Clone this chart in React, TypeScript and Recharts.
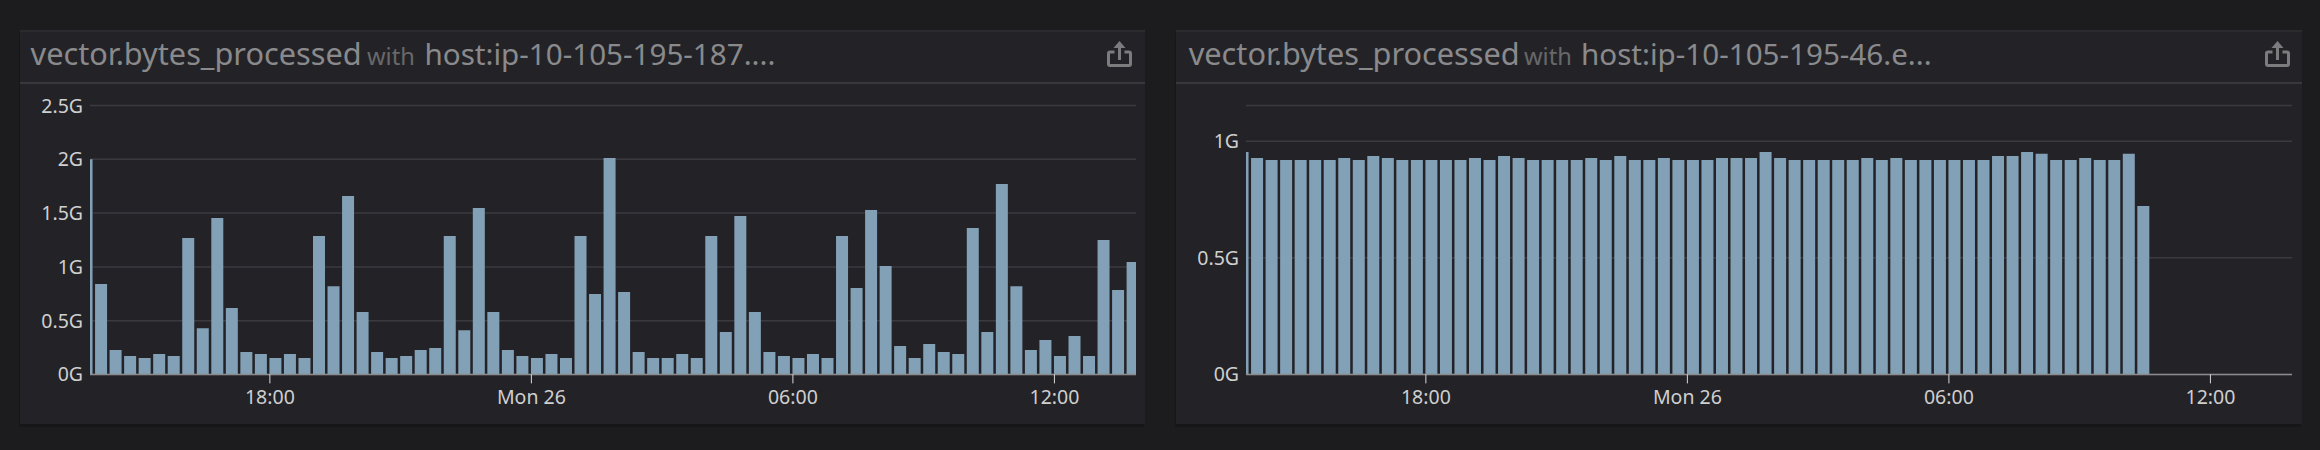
import React from "react";
import { BarChart, Bar, XAxis, YAxis, CartesianGrid } from "recharts";

const hostOneValues = [
  2.0, 0.84, 0.226, 0.17, 0.152, 0.19, 0.17, 1.268, 0.43, 1.454, 0.617, 0.208, 0.19, 0.152, 0.19, 0.152,
  1.287, 0.82, 1.66, 0.58, 0.208, 0.152, 0.17, 0.226, 0.245, 1.287, 0.41, 1.547, 0.58, 0.226, 0.17, 0.152,
  0.19, 0.152, 1.287, 0.747, 2.012, 0.766, 0.208, 0.152, 0.152, 0.19, 0.152, 1.287, 0.394, 1.473, 0.58,
  0.208, 0.17, 0.152, 0.19, 0.152, 1.287, 0.803, 1.529, 1.008, 0.264, 0.152, 0.282, 0.208, 0.19, 1.361,
  0.394, 1.77, 0.82, 0.226, 0.32, 0.17, 0.357, 0.17, 1.25, 0.785, 1.045,
];
const hostTwoValues = [
  0.954, 0.928, 0.92, 0.92, 0.92, 0.92, 0.92, 0.928, 0.92, 0.937, 0.928, 0.92, 0.92, 0.92, 0.92, 0.92,
  0.928, 0.92, 0.937, 0.928, 0.92, 0.92, 0.92, 0.92, 0.928, 0.92, 0.937, 0.92, 0.92, 0.928, 0.92, 0.92,
  0.92, 0.928, 0.928, 0.928, 0.954, 0.928, 0.92, 0.92, 0.92, 0.92, 0.92, 0.928, 0.92, 0.928, 0.92, 0.92,
  0.92, 0.92, 0.92, 0.92, 0.937, 0.937, 0.954, 0.946, 0.92, 0.92, 0.928, 0.92, 0.92, 0.946, 0.722,
];
const xTicks = [0, 360, 720, 1080];
const xTickLabels = ["18:00", "Mon 26", "06:00", "12:00"];
const hostOneYTicks = [0, 0.5, 1, 1.5, 2, 2.5];
const hostTwoYTicks = [0, 0.5, 1];
const yLabel = (v: number) => `${v}G`;
const firstBucketMinute = -252;
const bucketMinutes = 20;
const xDomain = [-247.6, 1192.3];

const toRows = (values: number[]) =>
  values.map((value, i) => ({ minute: firstBucketMinute + i * bucketMinutes, value }));

const FONT = '"Noto Sans", sans-serif';
const BAR = "#82a0b6";
const GRID = "#3a3a40";

function Panel(props: {
  left: number; width: number; plotLeft: number; plotRight: number; yMax: number; yTicks: number[];
  values: number[]; host: string; titleX: number; withX: number; hostX: number; iconX: number;
}) {
  const { left, width, plotLeft, plotRight, yMax, yTicks, values, host, titleX, withX, hostX, iconX } = props;
  const chartLeft = plotLeft - 70;
  const data = toRows(values);
  return (
    <>
      <div style={{ position: "absolute", left, top: 30, width, height: 394, background: "#232327", borderTop: "2px solid #2b2b2f", boxSizing: "border-box", boxShadow: "-1px 3px 0 #161618" }} />
      <div style={{ position: "absolute", left, top: 82, width, height: 2, background: "#38383c" }} />
      <svg width={2320} height={90} style={{ position: "absolute", left: 0, top: 0, fontFamily: FONT }}>
        <text x={titleX} y={65} fontSize={30.7} fill="#8a8a8c">vector.bytes_processed</text>
        <text x={withX} y={65} fontSize={23.7} fill="#68686a">with</text>
        <text x={hostX} y={65} fontSize={29.6} fill="#8a8a8c">{host}</text>
        <g transform={`translate(${iconX},41)`} fill="none" stroke="#7c7c7e" strokeWidth={3}>
          <path d="M7.5 11 H3 Q1.5 11 1.5 12.5 V23 Q1.5 24.5 3 24.5 H22 Q23.5 24.5 23.5 23 V12.5 Q23.5 11 22 11 H17.5" />
          <path d="M12.5 19 V4" />
          <path d="M12.5 0 L6.5 7 H18.5 Z" fill="#7c7c7e" stroke="none" />
        </g>
      </svg>
      <div style={{ position: "absolute", left: chartLeft, top: 90 }}>
        <BarChart
          width={plotRight - chartLeft}
          height={334}
          data={data}
          barSize={12}
          margin={{ top: 15.6, right: 0, bottom: 0, left: 0 }}
        >
          <CartesianGrid vertical={false} stroke={GRID} strokeWidth={1.5} />
          <XAxis
            dataKey="minute"
            type="number"
            scale="linear"
            domain={xDomain}
            allowDataOverflow
            ticks={xTicks}
            tickFormatter={(v: number) => xTickLabels[xTicks.indexOf(v)]}
            height={49.6}
            interval={0}
            tickSize={9}
            tickMargin={7}
            axisLine={{ stroke: "#8c8c8e", strokeWidth: 1.5 }}
            tickLine={{ stroke: "#d8d8d8", strokeWidth: 1 }}
            tick={{ fill: "#cfcfcf", fontSize: 19.5, fontFamily: FONT }}
          />
          <YAxis
            type="number"
            domain={[0, yMax]}
            ticks={yTicks}
            allowDataOverflow
            width={70}
            tickSize={0}
            tickMargin={7}
            axisLine={false}
            tickLine={false}
            interval={0}
            tickFormatter={yLabel}
            tick={{ fill: "#cfcfcf", fontSize: 19.5, fontFamily: FONT }}
          />
          <Bar dataKey="value" fill={BAR} isAnimationActive={false} />
        </BarChart>
      </div>
    </>
  );
}

export default function App() {
  return (
    <div style={{ position: "absolute", left: 0, top: 0, width: 2320, height: 450, background: "#1c1c1e", overflow: "hidden" }}>
      <Panel left={20} width={1124.5} plotLeft={90} plotRight={1136} yMax={2.5} yTicks={hostOneYTicks} values={hostOneValues}
        host="host:ip-10-105-195-187...." titleX={30.6} withX={367} hostX={424.5} iconX={1107} />
      <Panel left={1176} width={1126} plotLeft={1246} plotRight={2292} yMax={1.153} yTicks={hostTwoYTicks} values={hostTwoValues}
        host="host:ip-10-105-195-46.e..." titleX={1188.7} withX={1524} hostX={1581} iconX={2265} />
    </div>
  );
}
